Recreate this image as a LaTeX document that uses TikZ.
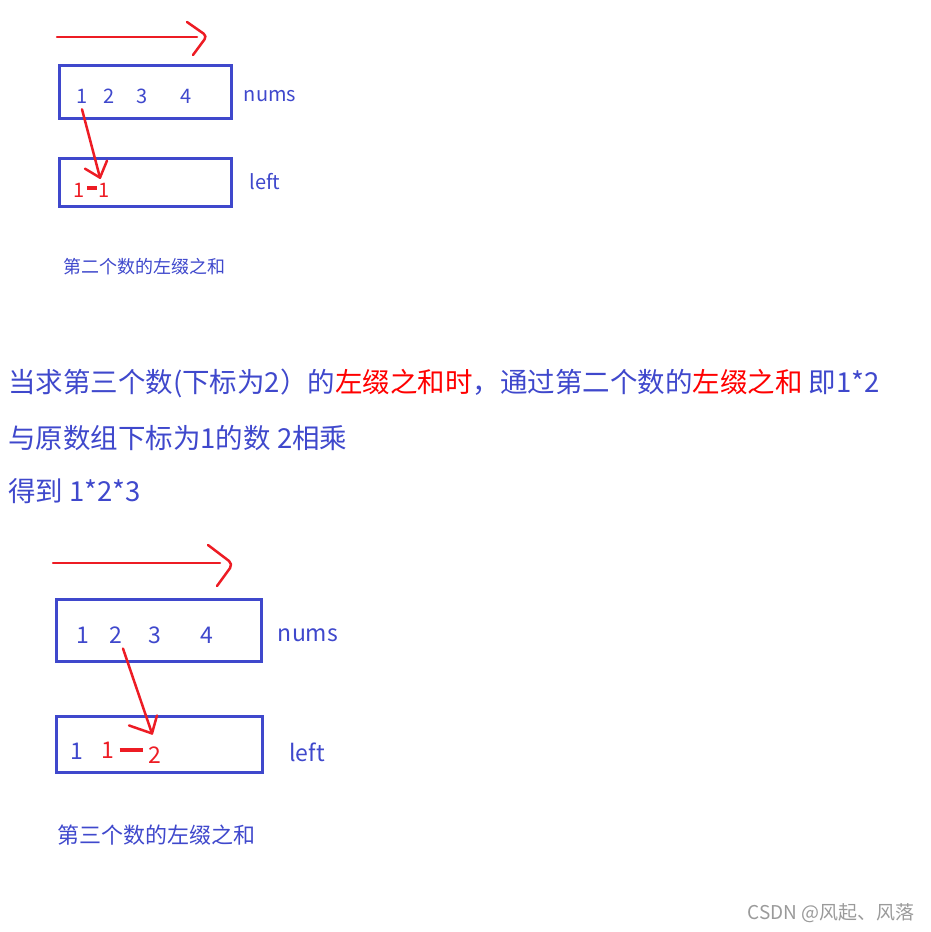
\documentclass[tikz,border=0pt]{standalone}
\usepackage{fontspec}
\setmainfont{Noto Sans CJK SC}
\usepackage{tikz}
\usetikzlibrary{calc}
\definecolor{paintblue}{HTML}{3F48CC}
\definecolor{paintred}{HTML}{ED1C24}
\definecolor{inkred}{HTML}{FF0000}
\definecolor{markgray}{HTML}{9A9A9A}

\begin{document}
\begin{tikzpicture}[x=1pt, y=-1pt,
  box/.style={draw=paintblue, line width=2.5pt, anchor=north west, inner sep=0pt},
  pen/.style={paintred, line width=2.5pt, line cap=round, line join=round}]
\useasboundingbox (0,0) rectangle (930,932);

%first sketch: prefix of the second number
\node[box, minimum width=172pt, minimum height=53pt] (numsA) at (58,64) {};
\node[box, minimum width=172pt, minimum height=48pt] (leftA) at (58,157) {};
\begin{scope}[every node/.style={text=paintblue, font=\fontsize{20}{24}\selectfont, inner sep=0pt}]
\node (a1) at (82,96) {1};
\node (a2) at (109,96) {2};
\node (a3) at (142,96) {3};
\node (a4) at (186,96) {4};
\node (numsAlabel) at (270,96) {nums};
\node (leftAlabel) at (265,182) {left};
%what is kept in left
\node[text=paintred] (la1) at (79,190) {1};
\node[text=paintred] (la2) at (104,190) {1};
\end{scope}
\draw[paintred, line width=3.5pt] ($(la1.east)+(2,-2)$) -- ($(la2.west)+(-1,-2)$);
\node[text=paintblue, font=\fontsize{18}{22}\selectfont] (capA) at (144,267) {第二个数的左缀之和};

%direction of the pass
\coordinate (startA) at (57,37);
\coordinate (endA) at (197,37);
\draw[pen] (startA) -- (endA);
\draw[pen, rounded corners=4pt] ($(endA)+(-10,-15)$) -- ($(endA)+(10,-1)$) -- ($(endA)+(-4,18)$);

%from nums to left
\draw[pen] ($(a1.south)+(0,6)$) -- ($(la2.north)+(-4,-5)$) coordinate (tipA);
\draw[pen] ($(tipA)+(-15,-9)$) -- (tipA) -- ($(tipA)+(7,-17)$);

%the text in between
\begin{scope}[every node/.style={text=paintblue, font=\fontsize{27.5}{32}\selectfont, anchor=west, inner sep=0pt}]
\node (lineA) at (8,383) {当求第三个数(下标为2）的{\color{inkred}左缀之和时}，通过第二个数的{\color{inkred}左缀之和} 即1*2};
\node (lineB) at (8,438) {与原数组下标为1的数 2相乘};
\node (lineC) at (8,491) {得到 1*2*3};
\end{scope}

%second sketch: prefix of the third number
\node[box, minimum width=205pt, minimum height=62pt] (numsB) at (55,598) {};
\node[box, minimum width=206pt, minimum height=56pt] (leftB) at (55,715) {};
\begin{scope}[every node/.style={text=paintblue, font=\fontsize{23}{28}\selectfont, inner sep=0pt}]
\node (b1) at (83,635) {1};
\node (b2) at (116,635) {2};
\node (b3) at (155,635) {3};
\node (b4) at (207,635) {4};
\node (numsBlabel) at (308,635) {nums};
\node (leftBlabel) at (307,752) {left};
%what is kept in left
\node (lb1) at (77,751) {1};
\node[text=paintred] (lb2) at (108,750) {1};
\node[text=paintred] (lb3) at (155,755) {2};
\end{scope}
\draw[paintred, line width=3.5pt] ($(lb2.east)+(5,0)$) -- ($(lb3.west)+(-5,-5)$);
\node[text=paintblue, font=\fontsize{22}{26}\selectfont] (capB) at (156,835) {第三个数的左缀之和};

%direction of the pass
\coordinate (startB) at (53,563);
\coordinate (endB) at (220,563);
\draw[pen] (startB) -- (endB);
\draw[pen, rounded corners=5pt] ($(endB)+(-12,-18)$) -- ($(endB)+(13,1)$) -- ($(endB)+(-3,23)$);

%from nums to left
\draw[pen] ($(b2.south)+(7,5)$) -- ($(lb3.north)+(-3,-13)$) coordinate (tipB);
\draw[pen] ($(tipB)+(-23,-8)$) -- (tipB) -- ($(tipB)+(5,-18)$);

%watermark
\node[text=markgray, font=\fontsize{19}{23}\selectfont, anchor=east, inner sep=0pt] (mark) at (915,913) {CSDN @风起、风落};
\end{tikzpicture}
\end{document}
